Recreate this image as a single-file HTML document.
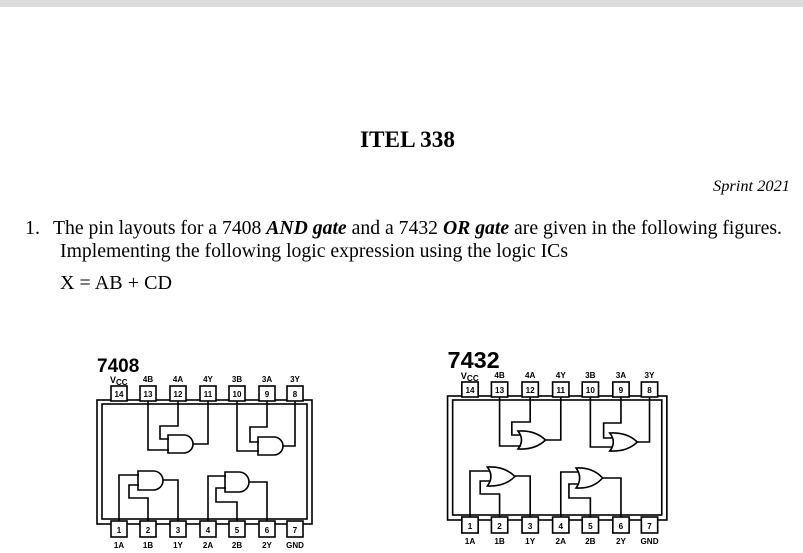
<!DOCTYPE html>
<html><head><meta charset="utf-8"><style>
html,body{margin:0;padding:0;background:#fff;width:803px;height:553px;overflow:hidden}
svg{display:block}
</style></head><body>
<svg id="s" width="803" height="553" viewBox="0 0 803 553" xmlns="http://www.w3.org/2000/svg">
<rect x="0" y="0" width="803" height="7" fill="#dcdcdc"/>
<g font-family="Liberation Serif, serif" fill="#000">
<text x="360" y="147" font-size="23" font-weight="bold" textLength="95" lengthAdjust="spacingAndGlyphs">ITEL 338</text>
<text x="713" y="191" font-size="16" font-style="italic" textLength="77" lengthAdjust="spacingAndGlyphs">Sprint 2021</text>
<text x="25" y="234" font-size="20">1.</text>
<text x="53" y="234" font-size="20" textLength="729" lengthAdjust="spacingAndGlyphs">The pin layouts for a 7408 <tspan font-weight="bold" font-style="italic">AND gate</tspan> and a 7432 <tspan font-weight="bold" font-style="italic">OR gate</tspan> are given in the following figures.</text>
<text x="60" y="257" font-size="20" textLength="508" lengthAdjust="spacingAndGlyphs">Implementing the following logic expression using the logic ICs</text>
<text x="60" y="289" font-size="20" textLength="112" lengthAdjust="spacingAndGlyphs">X = AB + CD</text>
</g>
<g id="c1"></g>
<g id="c2"></g>
</svg>
<script>
var NS="http://www.w3.org/2000/svg";
function el(p,t,a,txt){var e=document.createElementNS(NS,t);for(var k in a)e.setAttribute(k,a[k]);if(txt!==undefined)e.textContent=txt;p.appendChild(e);return e;}
function chip(g,isOr,title,tfs){
  var L={fill:"none",stroke:"#000","stroke-width":"1.6"};
  el(g,"rect",Object.assign({x:97,y:400,width:215,height:124},L));
  el(g,"rect",Object.assign({x:102,y:404,width:205,height:115},L));
  var tx=[119,148,178,208,237,267,295];
  var tn=["14","13","12","11","10","9","8"], tl=["VCC","4B","4A","4Y","3B","3A","3Y"];
  var bn=["1","2","3","4","5","6","7"], bl=["1A","1B","1Y","2A","2B","2Y","GND"];
  for(var i=0;i<7;i++){
    var x=tx[i];
    el(g,"rect",{x:x-8,y:386,width:16,height:15,fill:"#fff",stroke:"#000","stroke-width":"1.6"});
    el(g,"text",{x:x,y:397,"font-size":"8","font-weight":"bold","text-anchor":"middle","font-family":"Liberation Sans, sans-serif"},tn[i]);
    if(i==0){var t=el(g,"text",{x:x-9,y:383,"font-size":"9","font-weight":"bold","font-family":"Liberation Sans, sans-serif"},"V");el(t,"tspan",{"font-size":"8",dy:"2"},"CC");}
    else el(g,"text",{x:x,y:382,"font-size":"8","font-weight":"bold","text-anchor":"middle","font-family":"Liberation Sans, sans-serif"},tl[i]);
    el(g,"rect",{x:x-8,y:521,width:16,height:16,fill:"#fff",stroke:"#000","stroke-width":"1.6"});
    el(g,"text",{x:x,y:533,"font-size":"8","font-weight":"bold","text-anchor":"middle","font-family":"Liberation Sans, sans-serif"},bn[i]);
    el(g,"text",{x:x,y:548,"font-size":"8","font-weight":"bold","text-anchor":"middle","font-family":"Liberation Sans, sans-serif"},bl[i]);
  }
  el(g,"text",{x:97,y:372,"font-size":tfs,"font-weight":"bold","font-family":"Liberation Sans, sans-serif"},title);
  function gate(x,y,w,h){
    var d;
    if(!isOr) d="M"+x+","+y+" H"+(x+w-h/2)+" A"+(h/2)+","+(h/2)+" 0 0 1 "+(x+w-h/2)+","+(y+h)+" H"+x+" Z";
    else d="M"+(x-2)+","+y+" Q"+(x+w*0.6)+","+(y-1)+" "+(x+w)+","+(y+h/2)+" Q"+(x+w*0.6)+","+(y+h+1)+" "+(x-2)+","+(y+h)+" Q"+(x+5)+","+(y+h/2)+" "+(x-2)+","+y+" Z";
    el(g,"path",Object.assign({d:d},L));
  }
  function w(p){el(g,"polyline",Object.assign({points:p},L));}
  gate(168,435,25,18);
  w("178,401 178,426 160,426 160,439 169,439");
  w("148,401 148,450 169,450");
  w("193,444 208,444 208,401");
  gate(258,437,25,18);
  w("267,401 267,427 250,427 250,442 259,442");
  w("237,401 237,451 259,451");
  w("283,446 295,446 295,401");
  gate(138,471,25,19);
  w("119,521 119,475 139,475");
  w("148,521 148,498 129,498 129,485 139,485");
  w("163,480 178,480 178,521");
  gate(225,472,24,20);
  w("208,521 208,476 226,476");
  w("237,521 237,502 216,502 216,488 226,488");
  w("249,482 267,482 267,521");
}
var c1=document.getElementById("c1"),c2=document.getElementById("c2");
chip(c1,false,"7408","19");
c2.setAttribute("transform","translate(470,-4) scale(1.02,1) translate(-119,0)");
chip(c2,true,"7432","23");
</script>
</body></html>
